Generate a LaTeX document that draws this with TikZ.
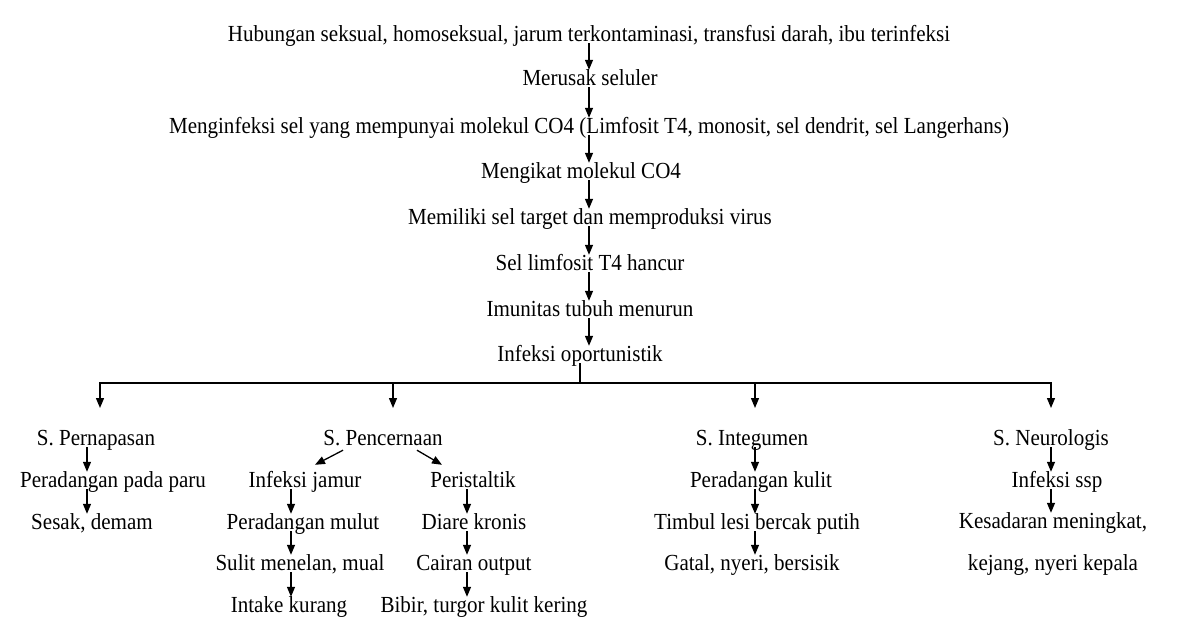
\documentclass[tikz,border=0pt]{standalone}
\usepackage{fontspec}
\setmainfont{Liberation Serif}[FakeStretch=0.915]
\usetikzlibrary{arrows.meta}
\begin{document}
\begin{tikzpicture}[x=1pt,y=-1pt,
  lbl/.style={anchor=base,inner sep=0pt,text height=15pt,text depth=2pt,font=\fontsize{23}{27}\selectfont},
  arr/.style={line width=1.3pt,-{Triangle[length=10pt,width=8pt]}},
  ln/.style={line width=1.3pt}]
\useasboundingbox[fill=white] (0,0) rectangle (1200,630);
% main chain
\node[lbl] (h) at (589,41) {Hubungan seksual, homoseksual, jarum terkontaminasi, transfusi darah, ibu terinfeksi};
\node[lbl] (m1) at (590,85) {Merusak seluler};
\node[lbl] (m2) at (589,133) {Menginfeksi sel yang mempunyai molekul CO4 (Limfosit T4, monosit, sel dendrit, sel Langerhans)};
\node[lbl] (m3) at (581,178) {Mengikat molekul CO4};
\node[lbl] (m4) at (590,224) {Memiliki sel target dan memproduksi virus};
\node[lbl] (m5) at (590,270) {Sel limfosit T4 hancur};
\node[lbl] (m6) at (590,316) {Imunitas tubuh menurun};
\node[lbl] (inf) at (580,361) {Infeksi oportunistik};
\coordinate (cm) at (589,0);
\draw[arr] (h.south -| cm) -- (m1.north -| cm);
\draw[arr] (m1.south -| cm) -- (m2.north -| cm);
\draw[arr] (m2.south -| cm) -- (m3.north -| cm);
\draw[arr] (m3.south -| cm) -- (m4.north -| cm);
\draw[arr] (m4.south -| cm) -- (m5.north -| cm);
\draw[arr] (m5.south -| cm) -- (m6.north -| cm);
\draw[arr] (m6.south -| cm) -- (inf.north -| cm);
% branch
\coordinate (bj) at (580,383);
\coordinate (e1) at (100,408);
\coordinate (e2) at (393,408);
\coordinate (e3) at (755,408);
\coordinate (e4) at (1051,408);
\draw[ln] (inf.south -| bj) -- (bj);
\draw[arr] (bj) -| (e1);
\draw[arr] (bj) -| (e2);
\draw[arr] (bj) -| (e3);
\draw[arr] (bj) -| (e4);
% level 1
\node[lbl] (sp) at (96,445) {S. Pernapasan};
\node[lbl] (pc) at (383,445) {S. Pencernaan};
\node[lbl] (si) at (752,445) {S. Integumen};
\node[lbl] (sn) at (1051,445) {S. Neurologis};
% column 1
\coordinate (c1) at (87,0);
\node[lbl] (pp) at (113,487) {Peradangan pada paru};
\node[lbl] (sd) at (92,529) {Sesak, demam};
\draw[arr] (sp.south -| c1) -- (pp.north -| c1);
\draw[arr] (pp.south -| c1) -- (sd.north -| c1);
% column 2 left
\coordinate (c2) at (291,0);
\node[lbl] (ij) at (305,487) {Infeksi jamur};
\node[lbl] (pm) at (303,529) {Peradangan mulut};
\node[lbl] (sm) at (300,570) {Sulit menelan, mual};
\node[lbl] (ik) at (289,612) {Intake kurang};
\draw[arr] ([xshift=-40pt,yshift=-3pt]pc.south) -- ([xshift=10pt,yshift=7pt]ij.north);
\draw[arr] (ij.south -| c2) -- (pm.north -| c2);
\draw[arr] (pm.south -| c2) -- (sm.north -| c2);
\draw[arr] (sm.south -| c2) -- (ik.north -| c2);
% column 2 right
\coordinate (c3) at (467,0);
\node[lbl] (pe) at (473,487) {Peristaltik};
\node[lbl] (dk) at (474,529) {Diare kronis};
\node[lbl] (co) at (474,570) {Cairan output};
\node[lbl] (bt) at (484,612) {Bibir, turgor kulit kering};
\draw[arr] ([xshift=34pt,yshift=-3pt]pc.south) -- ([xshift=-31pt,yshift=7pt]pe.north);
\draw[arr] (pe.south -| c3) -- (dk.north -| c3);
\draw[arr] (dk.south -| c3) -- (co.north -| c3);
\draw[arr] (co.south -| c3) -- (bt.north -| c3);
% column 3
\coordinate (c4) at (755,0);
\node[lbl] (pk) at (761,487) {Peradangan kulit};
\node[lbl] (tl) at (757,529) {Timbul lesi bercak putih};
\node[lbl] (gn) at (752,570) {Gatal, nyeri, bersisik};
\draw[arr] (si.south -| c4) -- (pk.north -| c4);
\draw[arr] (pk.south -| c4) -- (tl.north -| c4);
\draw[arr] (tl.south -| c4) -- (gn.north -| c4);
% column 4
\coordinate (c5) at (1051,0);
\node[lbl] (is) at (1057,487) {Infeksi ssp};
\node[lbl,align=center,text height=57pt] (ks) at (1053,570) {Kesadaran meningkat,\\[15pt]kejang, nyeri kepala};
\draw[arr] (sn.south -| c5) -- (is.north -| c5);
\draw[arr] (is.south -| c5) -- (ks.north -| c5);
\end{tikzpicture}
\end{document}
